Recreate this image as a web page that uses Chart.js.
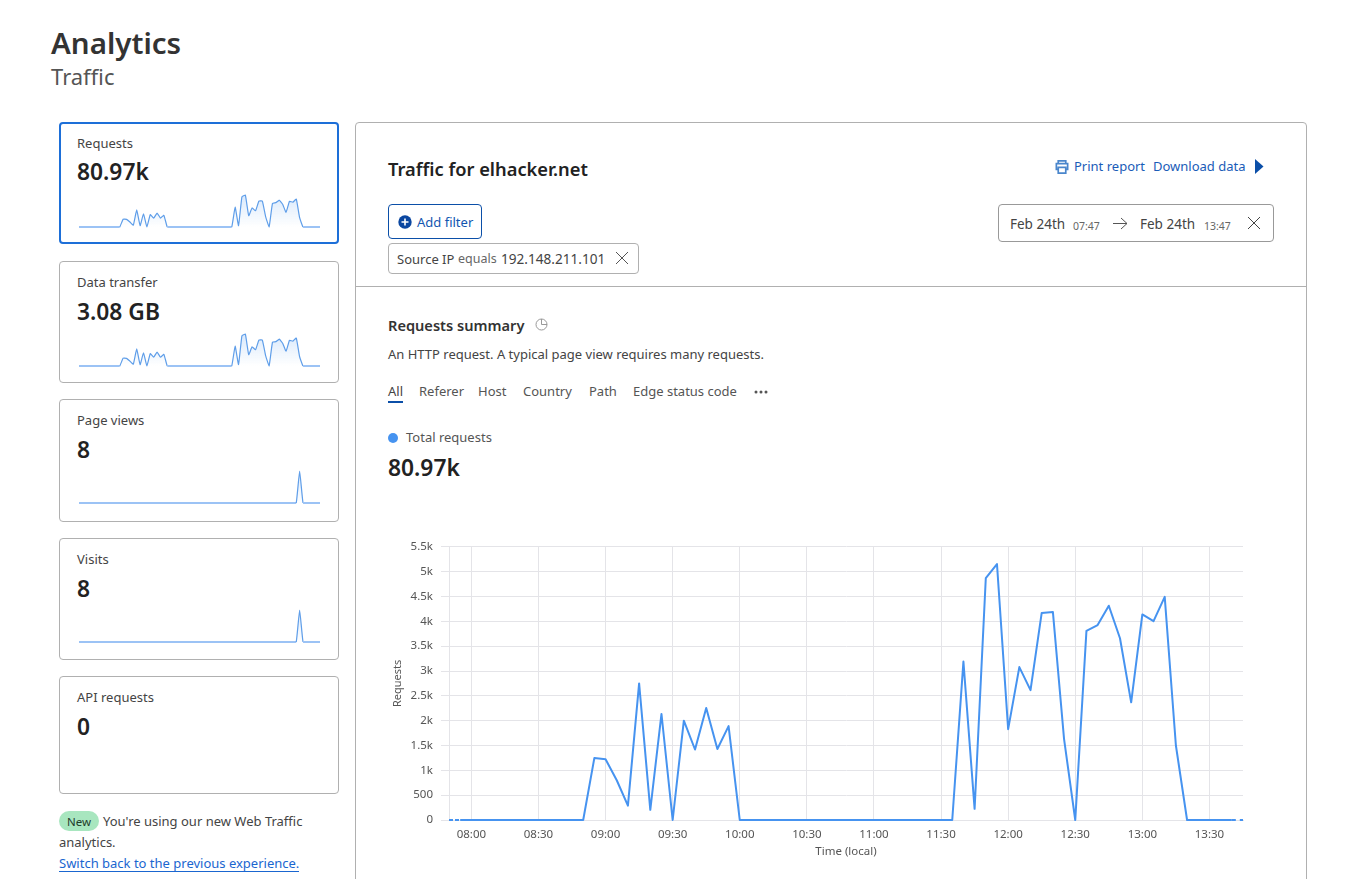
<!DOCTYPE html>
<html>
<head>
<meta charset="utf-8">
<title>Analytics - Traffic</title>
<script src="https://cdn.jsdelivr.net/npm/chart.js@4/dist/chart.umd.min.js"></script>
<style>
  html, body { margin: 0; height: 100%; overflow: hidden; background: #fff; }
  body { font-family: "Noto Sans", sans-serif; color: #444; position: relative; width: 1348px; height: 879px; }
  .t { position: absolute; white-space: nowrap; line-height: 1; left: calc(var(--x) * 1px); font-size: calc(var(--s) * 1px); top: calc((var(--b) - .888 * var(--s) + 1) * 1px); }
  .bold { font-weight: 600; color: #222; }
  .link { color: #1a5cb8; }
  .sm { color: #666; }
  .box { position: absolute; box-sizing: border-box; border: 1px solid #b0b0b0; border-radius: 4px; background: #fff; }
  canvas, svg { position: absolute; }
</style>
</head>
<body>
  <div class="t bold" style="--x:51;--b:53;--s:29.5;color:#333">Analytics</div>
  <div class="t" style="--x:51;--b:84;--s:22;color:#555">Traffic</div>

  <!-- left cards -->
  <div class="box" style="left:59px;top:122px;width:280px;height:122px;border:2px solid #1d6fd8"></div>
  <div class="box" style="left:59px;top:261px;width:280px;height:122px"></div>
  <div class="box" style="left:59px;top:399px;width:280px;height:123px"></div>
  <div class="box" style="left:59px;top:538px;width:280px;height:122px"></div>
  <div class="box" style="left:59px;top:676px;width:280px;height:118px"></div>

  <div class="t" style="--x:77;--b:148;--s:13">Requests</div>
  <div class="t bold" style="--x:77;--b:180.5;--s:22.8">80.97k</div>
  <div class="t" style="--x:77;--b:287;--s:13">Data transfer</div>
  <div class="t bold" style="--x:77;--b:320;--s:22.8">3.08 GB</div>
  <div class="t" style="--x:77;--b:425;--s:13">Page views</div>
  <div class="t bold" style="--x:77;--b:458;--s:22.8">8</div>
  <div class="t" style="--x:77;--b:564;--s:13">Visits</div>
  <div class="t bold" style="--x:77;--b:597;--s:22.8">8</div>
  <div class="t" style="--x:77;--b:702;--s:13">API requests</div>
  <div class="t bold" style="--x:77;--b:735;--s:22.8">0</div>

  <canvas id="sparkRequests" width="241" height="38" style="left:79px;top:190px"></canvas>
  <canvas id="sparkTransfer" width="241" height="38" style="left:79px;top:329px"></canvas>
  <canvas id="sparkPageViews" width="241" height="38" style="left:79px;top:466px"></canvas>
  <canvas id="sparkVisits" width="241" height="38" style="left:79px;top:605px"></canvas>

  <div style="position:absolute;left:59px;top:811px;width:40px;height:20px;border-radius:10px;background:#a8e6bf"></div>
  <div class="t" style="--x:67;--b:825;--s:11.5;color:#1f3b2c">New</div>
  <div class="t" style="--x:103;--b:826;--s:13">You're using our new Web Traffic</div>
  <div class="t" style="--x:59;--b:847;--s:13">analytics.</div>
  <div class="t link" style="--x:59;--b:868;--s:13;color:#1a66d0;border-bottom:1px solid #1a66d0;padding-bottom:1px">Switch back to the previous experience.</div>

  <!-- main panel -->
  <div class="box" style="left:355px;top:122px;width:952px;height:800px"></div>
  <div style="position:absolute;left:356px;top:286px;width:950px;height:1px;background:#b0b0b0"></div>

  <div class="t bold" style="--x:388;--b:175.5;--s:18.3">Traffic for elhacker.net</div>

  <svg style="left:1055px;top:159px" width="14" height="16" viewBox="0 0 14 17" fill="none" stroke="#4a86cc" stroke-width="1.8"><path d="M3 5V2h8v3M3 11H1V5h12v6h-2M3 9h8v6H3z"/></svg>
  <div class="t link" style="--x:1074;--b:170.5;--s:13">Print report</div>
  <div class="t link" style="--x:1153;--b:170.5;--s:13">Download data</div>
  <svg style="left:1255px;top:159px" width="9" height="15"><path d="M0 0L8.5 7.5L0 15Z" fill="#0b4fa8"/></svg>

  <div class="box" style="left:388px;top:204px;width:94px;height:35px;border-color:#0b4fa8"></div>
  <svg style="left:398px;top:215px" width="14" height="14"><circle cx="7" cy="7" r="6.7" fill="#0b47a1"/><path d="M3.5 7h7M7 3.5v7" stroke="#fff" stroke-width="1.6"/></svg>
  <div class="t" style="--x:417;--b:227;--s:13;color:#1256b0">Add filter</div>

  <div class="box" style="left:388px;top:243px;width:251px;height:31px"></div>
  <div class="t" style="--x:397;--b:263.5;--s:13">Source IP</div>
  <div class="t sm" style="--x:458;--b:263.5;--s:12.5">equals</div>
  <div class="t" style="--x:501;--b:263.5;--s:13.6">192.148.211.101</div>
  <svg style="left:615px;top:251px" width="14" height="14" stroke="#555" stroke-width="1"><path d="M1 1L13 13M13 1L1 13"/></svg>

  <div class="box" style="left:998px;top:204px;width:276px;height:38px;border-color:#999"></div>
  <div class="t" style="--x:1010;--b:229;--s:13.5">Feb 24th</div>
  <div class="t sm" style="--x:1073;--b:229;--s:10.5">07:47</div>
  <svg style="left:1113px;top:217px" width="15" height="13" fill="none" stroke="#555" stroke-width="1"><path d="M0 6.5h14M8 1l6 5.5L8 12"/></svg>
  <div class="t" style="--x:1140;--b:229;--s:13.5">Feb 24th</div>
  <div class="t sm" style="--x:1204;--b:229;--s:10.5">13:47</div>
  <svg style="left:1247px;top:216px" width="14" height="14" stroke="#444" stroke-width="1"><path d="M1 1L13 13M13 1L1 13"/></svg>

  <div class="t bold" style="--x:388;--b:330;--s:14.6;color:#333">Requests summary</div>
  <svg style="left:535px;top:318px" width="13" height="13" fill="none" stroke="#999" stroke-width="1"><circle cx="6.5" cy="6.5" r="5.5"/><path d="M6.5 1v5.5h5.5"/></svg>
  <div class="t" style="--x:388;--b:359;--s:13">An HTTP request. A typical page view requires many requests.</div>

  <div class="t" style="--x:388;--b:396;--s:13">All</div>
  <div style="position:absolute;left:388px;top:401px;width:15px;height:2px;background:#0b4fa8"></div>
  <div class="t" style="--x:419;--b:396;--s:13;color:#555">Referer</div>
  <div class="t" style="--x:478;--b:396;--s:13;color:#555">Host</div>
  <div class="t" style="--x:523;--b:396;--s:13;color:#555">Country</div>
  <div class="t" style="--x:589;--b:396;--s:13;color:#555">Path</div>
  <div class="t" style="--x:633;--b:396;--s:13;color:#555">Edge status code</div>
  <svg style="left:754px;top:390px" width="14" height="4" fill="#555"><circle cx="2" cy="2" r="1.5"/><circle cx="7" cy="2" r="1.5"/><circle cx="12" cy="2" r="1.5"/></svg>

  <svg style="left:388px;top:433px" width="10" height="10"><circle cx="5" cy="5" r="5" fill="#4693f0"/></svg>
  <div class="t" style="--x:406;--b:442;--s:13;color:#555">Total requests</div>
  <div class="t bold" style="--x:388;--b:476;--s:22.8">80.97k</div>

  <canvas id="trafficChart" width="870" height="338" style="left:385px;top:532px"></canvas>

<script>
var times = [
  "07:50","07:55","08:00","08:05","08:10","08:15","08:20","08:25","08:30","08:35","08:40","08:45",
  "08:50","08:55","09:00","09:05","09:10","09:15","09:20","09:25","09:30","09:35","09:40","09:45",
  "09:50","09:55","10:00","10:05","10:10","10:15","10:20","10:25","10:30","10:35","10:40","10:45",
  "10:50","10:55","11:00","11:05","11:10","11:15","11:20","11:25","11:30","11:35","11:40","11:45",
  "11:50","11:55","12:00","12:05","12:10","12:15","12:20","12:25","12:30","12:35","12:40","12:45",
  "12:50","12:55","13:00","13:05","13:10","13:15","13:20","13:25","13:30","13:35","13:40","13:45"
];
var requests = [
  0,0,0,0,0,0,0,0,0,0,0,0,
  0,1250,1225,800,290,2750,205,2135,0,2000,1420,2255,
  1430,1890,0,0,0,0,0,0,0,0,0,0,
  0,0,0,0,0,0,0,0,0,0,3190,225,
  4870,5155,1830,3080,2615,4170,4190,1630,0,3810,3925,4315,
  3660,2370,4140,4005,4495,1500,0,0,0,0,0,0
];
// MB in the card
var dataTransfer = [
  0,0,0,0,0,0,0,0,0,0,0,0,
  0,48,47,30,11,105,8,81,0,76,54,86,
  54,72,0,0,0,0,0,0,0,0,0,0,
  0,0,0,0,0,0,0,0,0,0,122,9,
  186,197,70,118,100,159,160,62,0,146,150,165,
  140,91,158,153,172,57,0,0,0,0,0,0
];
var pageViews = [
  0,0,0,0,0,0,0,0,0,0,0,0,
  0,0,0,0,0,0,0,0,0,0,0,0,
  0,0,0,0,0,0,0,0,0,0,0,0,
  0,0,0,0,0,0,0,0,0,0,0,0,
  0,0,0,0,0,0,0,0,0,0,0,0,
  0,0,0,0,0,8,0,0,0,0,0,0
];
var visits = [
  0,0,0,0,0,0,0,0,0,0,0,0,
  0,0,0,0,0,0,0,0,0,0,0,0,
  0,0,0,0,0,0,0,0,0,0,0,0,
  0,0,0,0,0,0,0,0,0,0,0,0,
  0,0,0,0,0,0,0,0,0,0,0,0,
  0,0,0,0,0,8,0,0,0,0,0,0
];
var xTickLabels = ["08:00","08:30","09:00","09:30","10:00","10:30","11:00","11:30","12:00","12:30","13:00","13:30"];
var yTickLabels = ["0","500","1k","1.5k","2k","2.5k","3k","3.5k","4k","4.5k","5k","5.5k"];

var fontFamily = "'Noto Sans', sans-serif";
var gridColor = "#e4e4e8";
var lineColor = "#4693f0";
var lastIndex = times.length - 1;

new Chart(document.getElementById('trafficChart'), {
  type: 'line',
  data: {
    labels: times,
    datasets: [{
      label: 'Total requests',
      data: requests,
      borderColor: lineColor,
      borderWidth: 2,
      borderJoinStyle: 'round',
      pointRadius: 0,
      tension: 0,
      clip: false,
      // partial first and last buckets are dashed
      segment: {
        borderDash: function(ctx) {
          if (ctx.p0DataIndex === 0) return [4, 2];
          if (ctx.p1DataIndex === lastIndex) return [4, 4];
          return undefined;
        }
      }
    }]
  },
  options: {
    responsive: false,
    animation: false,
    layout: { padding: { top: 0, right: 12, bottom: 0, left: 0 } },
    plugins: { legend: { display: false }, tooltip: { enabled: false } },
    scales: {
      x: {
        afterFit: function(scale) { scale.height = 50; },
        afterBuildTicks: function(scale) {
          scale.ticks = scale.ticks.filter(function(t) {
            return xTickLabels.indexOf(times[t.value]) !== -1;
          });
        },
        grid: { color: gridColor, drawTicks: false },
        border: { color: gridColor },
        ticks: {
          autoSkip: false, maxRotation: 0, padding: 8,
          color: '#555', font: { size: 11.5, family: fontFamily }
        },
        title: {
          display: true, text: 'Time (local)', color: '#555',
          padding: { top: 0, bottom: 11.5 }, font: { size: 11.5, family: fontFamily }
        }
      },
      y: {
        min: 0, max: 5500,
        afterFit: function(scale) { scale.width = 64; },
        grid: { color: gridColor, tickLength: 8 },
        border: { color: gridColor },
        ticks: {
          stepSize: 500, padding: 8, color: '#555',
          font: { size: 11.5, family: fontFamily },
          callback: function(value, index) { return yTickLabels[index]; }
        },
        title: {
          display: true, text: 'Requests', color: '#555',
          padding: { top: 6, bottom: 0 }, font: { size: 11, family: fontFamily }
        }
      }
    }
  }
});

function sparkFill(context) {
  var area = context.chart.chartArea;
  if (!area) return 'transparent';
  var g = context.chart.ctx.createLinearGradient(0, area.top, 0, area.bottom);
  g.addColorStop(0, 'rgba(70,147,240,.2)');
  g.addColorStop(1, 'rgba(70,147,240,0)');
  return g;
}

function isFlat(ctx) {
  return ctx.p0.parsed.y === 0 && ctx.p1.parsed.y === 0;
}

function drawSpark(id, values) {
  new Chart(document.getElementById(id), {
    type: 'line',
    data: {
      labels: times,
      datasets: [{
        data: values,
        borderColor: '#5f9ee9',
        borderWidth: 1.2,
        borderJoinStyle: 'round',
        pointRadius: 0,
        tension: 0.12,
        fill: 'origin',
        backgroundColor: sparkFill,
        clip: false,
        // the zero stretches show as a wider, paler band
        segment: {
          borderColor: function(ctx) { return isFlat(ctx) ? '#9cc3f5' : undefined; },
          borderWidth: function(ctx) { return isFlat(ctx) ? 2 : undefined; }
        }
      }]
    },
    options: {
      responsive: false,
      animation: false,
      layout: { padding: { top: 5, bottom: 1, left: 0, right: 0 } },
      plugins: { legend: { display: false }, tooltip: { enabled: false } },
      scales: {
        x: { display: false },
        y: { display: false, min: 0, max: Math.max.apply(null, values) }
      }
    }
  });
}

drawSpark('sparkRequests', requests);
drawSpark('sparkTransfer', dataTransfer);
drawSpark('sparkPageViews', pageViews);
drawSpark('sparkVisits', visits);
</script>
</body>
</html>
